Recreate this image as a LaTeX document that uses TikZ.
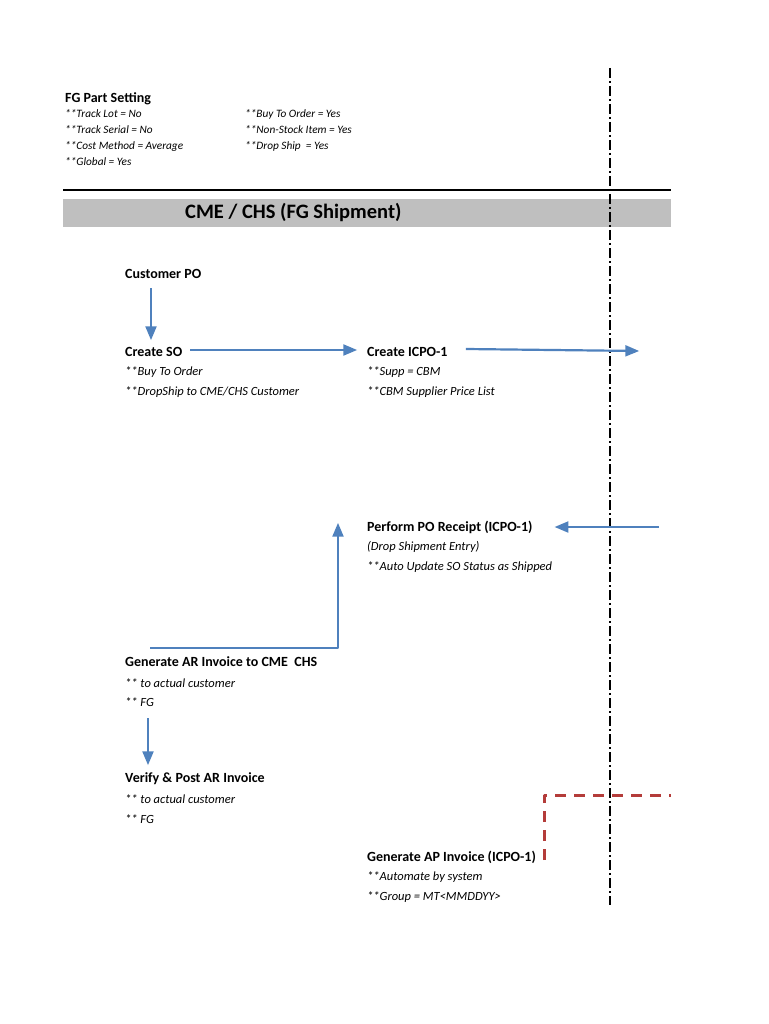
\documentclass[tikz,border=0pt]{standalone}
\usepackage{fontspec}
\setmainfont{Carlito}
\usepackage{xcolor}
\usetikzlibrary{arrows}
\usetikzlibrary{calc}
\definecolor{flowblue}{RGB}{79,129,189}
\definecolor{apred}{RGB}{180,60,58}
\definecolor{bargray}{RGB}{191,191,191}

\begin{document}
\begin{tikzpicture}[line join=round,>=triangle 45,x=1pt,y=-1pt,
  stephead/.style={anchor=west,inner sep=0pt,font=\bfseries\fontsize{14}{16}\selectfont},
  stepnote/.style={anchor=west,inner sep=0pt,font=\itshape\fontsize{12.5}{14}\selectfont},
  partnote/.style={anchor=west,inner sep=0pt,font=\itshape\fontsize{11.3}{13}\selectfont},
  flow/.style={->,color=flowblue,line width=2.2pt},
  apline/.style={color=apred,line width=3pt,dash pattern=on 11pt off 8pt}]
\useasboundingbox (0,0) rectangle (768,1024);
%\draw[help lines] (0,0) grid[step=50] (768,1024);

% part settings
\node[stephead] (fgpart) at (65,99) {FG Part Setting};
\node[partnote] (lot) at (65,114) {**Track Lot = No};
\node[partnote] (serial) at (65,130) {**Track Serial = No};
\node[partnote] (cost) at (65,146) {**Cost Method = Average};
\node[partnote] (global) at (65,162) {**Global = Yes};
\node[partnote] (bto) at (245,114) {**Buy To Order = Yes};
\node[partnote] (nonstock) at (245,130) {**Non-Stock Item = Yes};
\node[partnote] (dropship) at (245,146) {**Drop Ship~ = Yes};

% header
\draw[line width=2.5pt] (63,190) -- (671,190);
\fill[bargray] (63,199) rectangle (671,227);
\node[anchor=west,inner sep=0pt,font=\bfseries\fontsize{20.5}{24}\selectfont] (title) at (185,213) {CME / CHS (FG Shipment)};

% company border
\draw[line width=1.5pt,dash pattern=on 10pt off 3pt on 2pt off 3pt] (610,68) -- (610,905);

% steps
\node[stephead] (cpo) at (125,274) {Customer PO};

\node[stephead] (so) at (125,352) {Create SO};
\node[stepnote] (so1) at (125,372) {**Buy To Order};
\node[stepnote] (so2) at (125,392) {**DropShip to CME/CHS Customer};

\node[stephead] (icpo) at (367,352) {Create ICPO-1};
\node[stepnote] (icpo1) at (367,372) {**Supp = CBM};
\node[stepnote] (icpo2) at (367,392) {**CBM Supplier Price List};

\node[stephead] (rcpt) at (367,527) {Perform PO Receipt (ICPO-1)};
\node[stepnote] (rcpt1) at (367,547) {(Drop Shipment Entry)};
\node[stepnote] (rcpt2) at (367,567) {**Auto Update SO Status as Shipped};

\node[stephead] (arinv) at (125,662) {Generate AR Invoice to CME~~CHS};
\node[stepnote] (arinv1) at (125,683) {** to actual customer};
\node[stepnote] (arinv2) at (125,702) {** FG};

\node[stephead] (vpost) at (125,779) {Verify \& Post AR Invoice};
\node[stepnote] (vpost1) at (125,799) {** to actual customer};
\node[stepnote] (vpost2) at (125,819) {** FG};

\node[stephead] (apinv) at (367,857) {Generate AP Invoice (ICPO-1)};
\node[stepnote] (apinv1) at (367,877) {**Automate by system};
\node[stepnote] (apinv2) at (367,897) {**Group = MT<MMDDYY>};

\coordinate (icpoout) at (639,351);
\coordinate (rcptin) at (659,527);
\coordinate (apout) at (671,795);

% connectors
\draw[flow] ($(cpo.west)+(26,14)$) -- ($(so.west)+(26,-12)$);
\draw[flow] ($(so.east)+(8,-2)$) -- ($(icpo.west)+(-10,-2)$);
\draw[flow] ($(icpo.east)+(18,-3)$) -- (icpoout);
\draw[flow] (rcptin) -- ($(rcpt.east)+(22,0)$);
\draw[flow] ($(arinv.west)+(25,-14)$) -| ($(rcpt.west)+(-29,-4)$);
\draw[flow] ($(arinv2.west)+(23,16)$) -- ($(vpost.west)+(23,-14)$);
\draw[apline] ($(apinv.east)+(8,3)$) |- (apout);
\end{tikzpicture}
\end{document}
